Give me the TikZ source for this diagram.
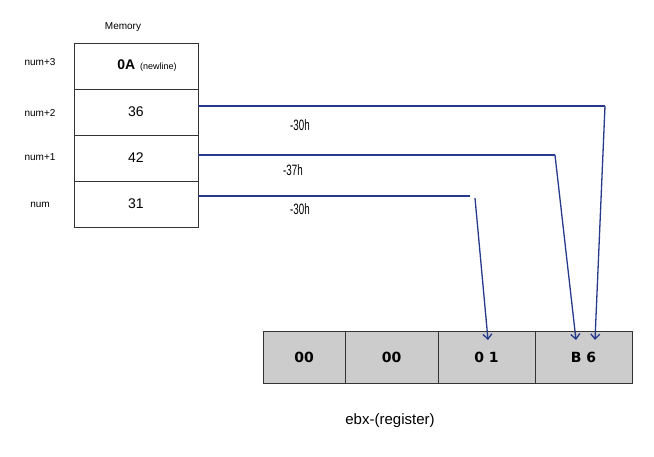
\documentclass[tikz,border=0pt]{standalone}
\usepackage{fontspec}
\usetikzlibrary{arrows.meta}
\setmainfont{DejaVu Sans}
\newfontfamily\lib{Liberation Sans}
\definecolor{wirec}{RGB}{38,58,140}
\begin{document}
\begin{tikzpicture}[x=1pt,y=-1pt,
  cell/.style={draw=black!80,minimum width=124pt,minimum height=46pt,inner sep=0pt,font=\lib\fontsize{14}{16}\selectfont},
  rcell/.style={draw=black!80,fill=black!20,minimum height=52pt,inner sep=0pt,font=\bfseries\fontsize{14}{16}\selectfont},
  lbl/.style={font=\lib\fontsize{10}{12}\selectfont},
  sub/.style={font=\lib\fontsize{15}{17}\selectfont,xscale=0.65},
  wire/.style={draw=wirec,line width=1.3pt},
  arr/.style={wire,->,>={Straight Barb[length=5pt,width=9pt]}}]
\useasboundingbox (0,0) rectangle (654,457);
\node[cell] (m3) at (136,66) {\hspace*{22pt}\textbf{0A}\hspace{5pt}{\fontsize{9}{10}\selectfont(newline)}};
\node[cell] (m2) at (136,112) {36};
\node[cell] (m1) at (136,158) {42};
\node[cell] (m0) at (136,204) {31};
\node[lbl] (mem) at (123,27) {Memory};
\node[lbl] (l3) at (40,62) {num+3};
\node[lbl] (l2) at (40,113) {num+2};
\node[lbl] (l1) at (40,157) {num+1};
\node[lbl] (l0) at (40,205) {num};
\node[rcell,minimum width=82pt] (r0) at (304,357) {00};
\node[rcell,minimum width=93pt] (r1) at (391.5,357) {00};
\node[rcell,minimum width=97pt] (r2) at (486.5,357) {0 1};
\node[rcell,minimum width=97pt] (r3) at (583.5,357) {B 6};
\node[font=\lib\fontsize{15}{17}\selectfont] (ebx) at (390,421) {ebx-(register)};
\node[sub] (s2) at (300,125) {-30h};
\node[sub] (s1) at (293,170) {-37h};
\node[sub] (s0) at (300,209) {-30h};
\coordinate (c2) at (605,106);
\coordinate (c1) at (555,155);
\coordinate (c0) at (470,196);
\coordinate (c0b) at (475,198);
\coordinate (t2) at (595,340);
\coordinate (t1) at (576,340);
\coordinate (t0) at (488,340);
\draw[wire] (m2.east|-c2) -- (c2);
\draw[arr] (c2) -- (t2);
\draw[wire] (m1.east|-c1) -- (c1);
\draw[arr] (c1) -- (t1);
\draw[wire] (m0.east|-c0) -- (c0);
\draw[arr] (c0b) -- (t0);
\end{tikzpicture}
\end{document}
